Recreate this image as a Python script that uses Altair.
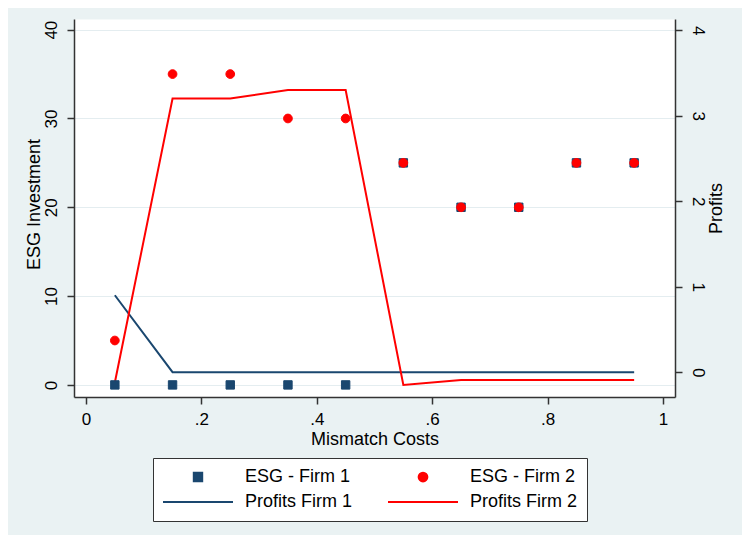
import altair as alt
import pandas as pd

# ---- data ----
mismatch = [0.05, 0.15, 0.25, 0.35, 0.45, 0.55, 0.65, 0.75, 0.85, 0.95]
esg_firm1 = [0, 0, 0, 0, 0, 25, 20, 20, 25, 25]
esg_firm2 = [5, 35, 35, 30, 30, 25, 20, 20, 25, 25]
profits_firm1 = [0.9, 0, 0, 0, 0, 0, 0, 0, 0, 0]
profits_firm2 = [-0.12, 3.2, 3.2, 3.3, 3.3, -0.15, -0.09, -0.09, -0.09, -0.09]
series_names = ["ESG - Firm 1", "ESG - Firm 2", "Profits Firm 1", "Profits Firm 2"]
x_ticks = [0, 0.2, 0.4, 0.6, 0.8, 1]
left_ticks = [0, 10, 20, 30, 40]
right_ticks = [0, 1, 2, 3, 4]

# ---- styling ----
NAVY = "#1a476f"
RED = "#ff0000"
BG = "#eaf2f3"
AXC = "#333333"
FONT = "Liberation Sans"
SQUARE = "M-0.12,-0.12H0.12V0.12H-0.12Z"
CIRCLE = "M0.125,0A0.125,0.125,0,1,1,-0.125,0A0.125,0.125,0,1,1,0.125,0Z"
LINE = "M-1,0H1"

esg = pd.DataFrame({
    "x": mismatch + mismatch,
    "value": esg_firm1 + esg_firm2,
    "series": [series_names[0]] * len(mismatch) + [series_names[1]] * len(mismatch),
})
prof = pd.DataFrame({
    "x": mismatch + mismatch,
    "profit": profits_firm1 + profits_firm2,
    "series": [series_names[2]] * len(mismatch) + [series_names[3]] * len(mismatch),
})

common_axis = dict(
    domainColor=AXC, domainWidth=1.5, tickColor=AXC, tickWidth=1.5, tickSize=7,
    labelColor="black", labelFont=FONT, labelFontSize=17,
    titleColor="black", titleFont=FONT, titleFontSize=18, titleFontWeight="normal",
)

x_enc = alt.X(
    "x:Q",
    scale=alt.Scale(domain=[-0.0208, 1.0208], nice=False, zero=False),
    axis=alt.Axis(
        values=x_ticks,
        labelExpr="datum.value == 0 ? '0' : datum.value == 1 ? '1' : '.' + round(datum.value * 10)",
        grid=False, labelFlush=False, labelOverlap=False,
        labelBaseline="alphabetic", labelPadding=20,
        title="Mismatch Costs", titleBaseline="alphabetic", titleX=300.5, titleY=47,
        **common_axis,
    ),
)

leg = alt.Legend(
    title=None, orient="none", legendX=79, legendY=439, columns=2, direction="horizontal",
    symbolSize=4900, symbolStrokeWidth=2, clipHeight=20, symbolOpacity=1,
    labelOffset=11, columnPadding=34, rowPadding=5, padding=9,
    fillColor="white", strokeColor="#333333",
    labelFont=FONT, labelFontSize=18, labelColor="black", labelLimit=0,
)

color_scale = alt.Scale(domain=series_names, range=[NAVY, RED, NAVY, RED])
shape_scale = alt.Scale(domain=series_names, range=[SQUARE, CIRCLE, LINE, LINE])

lines = alt.Chart(prof).mark_line(strokeWidth=2).encode(
    x=x_enc,
    y=alt.Y(
        "profit:Q",
        scale=alt.Scale(domain=[-0.29, 4.13], nice=False, zero=False),
        axis=alt.Axis(
            orient="right", values=right_ticks, grid=False,
            labelAngle=90, labelAlign="center", labelBaseline="alphabetic", labelPadding=10,
            title="Profits", titleAngle=270, titleAlign="center", titleBaseline="alphabetic",
            titleX=46.5, titleY=189,
            **common_axis,
        ),
    ),
    color=alt.Color("series:N", scale=alt.Scale(domain=series_names[2:], range=[NAVY, RED]), legend=None),
    detail="series:N",
)

points = alt.Chart(esg).mark_point(filled=True, size=4900, strokeWidth=1, opacity=1).encode(
    x=x_enc,
    y=alt.Y(
        "value:Q",
        scale=alt.Scale(domain=[-1.36, 41.2], nice=False, zero=False),
        axis=alt.Axis(
            orient="left", values=left_ticks, grid=True, gridColor="#e4edf0", gridWidth=1.2,
            labelAngle=270, labelAlign="center", labelBaseline="alphabetic", labelPadding=10.5,
            title="ESG Investment", titleAngle=270, titleAlign="center", titleBaseline="alphabetic",
            titleX=-34.5, titleY=185,
            **common_axis,
        ),
    ),
    fill=alt.Fill("series:N", scale=color_scale, legend=leg),
    stroke=alt.Stroke("series:N", scale=color_scale, legend=leg),
    shape=alt.Shape("series:N", scale=shape_scale, legend=leg),
)

chart = (
    alt.layer(lines, points)
    .resolve_scale(y="independent")
    .properties(
        width=601, height=378,
        autosize=alt.AutoSizeParams(type="none"),
        padding={"left": 66, "top": 11, "right": 67, "bottom": 138},
    )
    .configure(background=BG, font=FONT)
    .configure_view(fill="white", stroke="transparent")
)

chart.save("out.html", embed_options={"renderer": "svg", "actions": False})
